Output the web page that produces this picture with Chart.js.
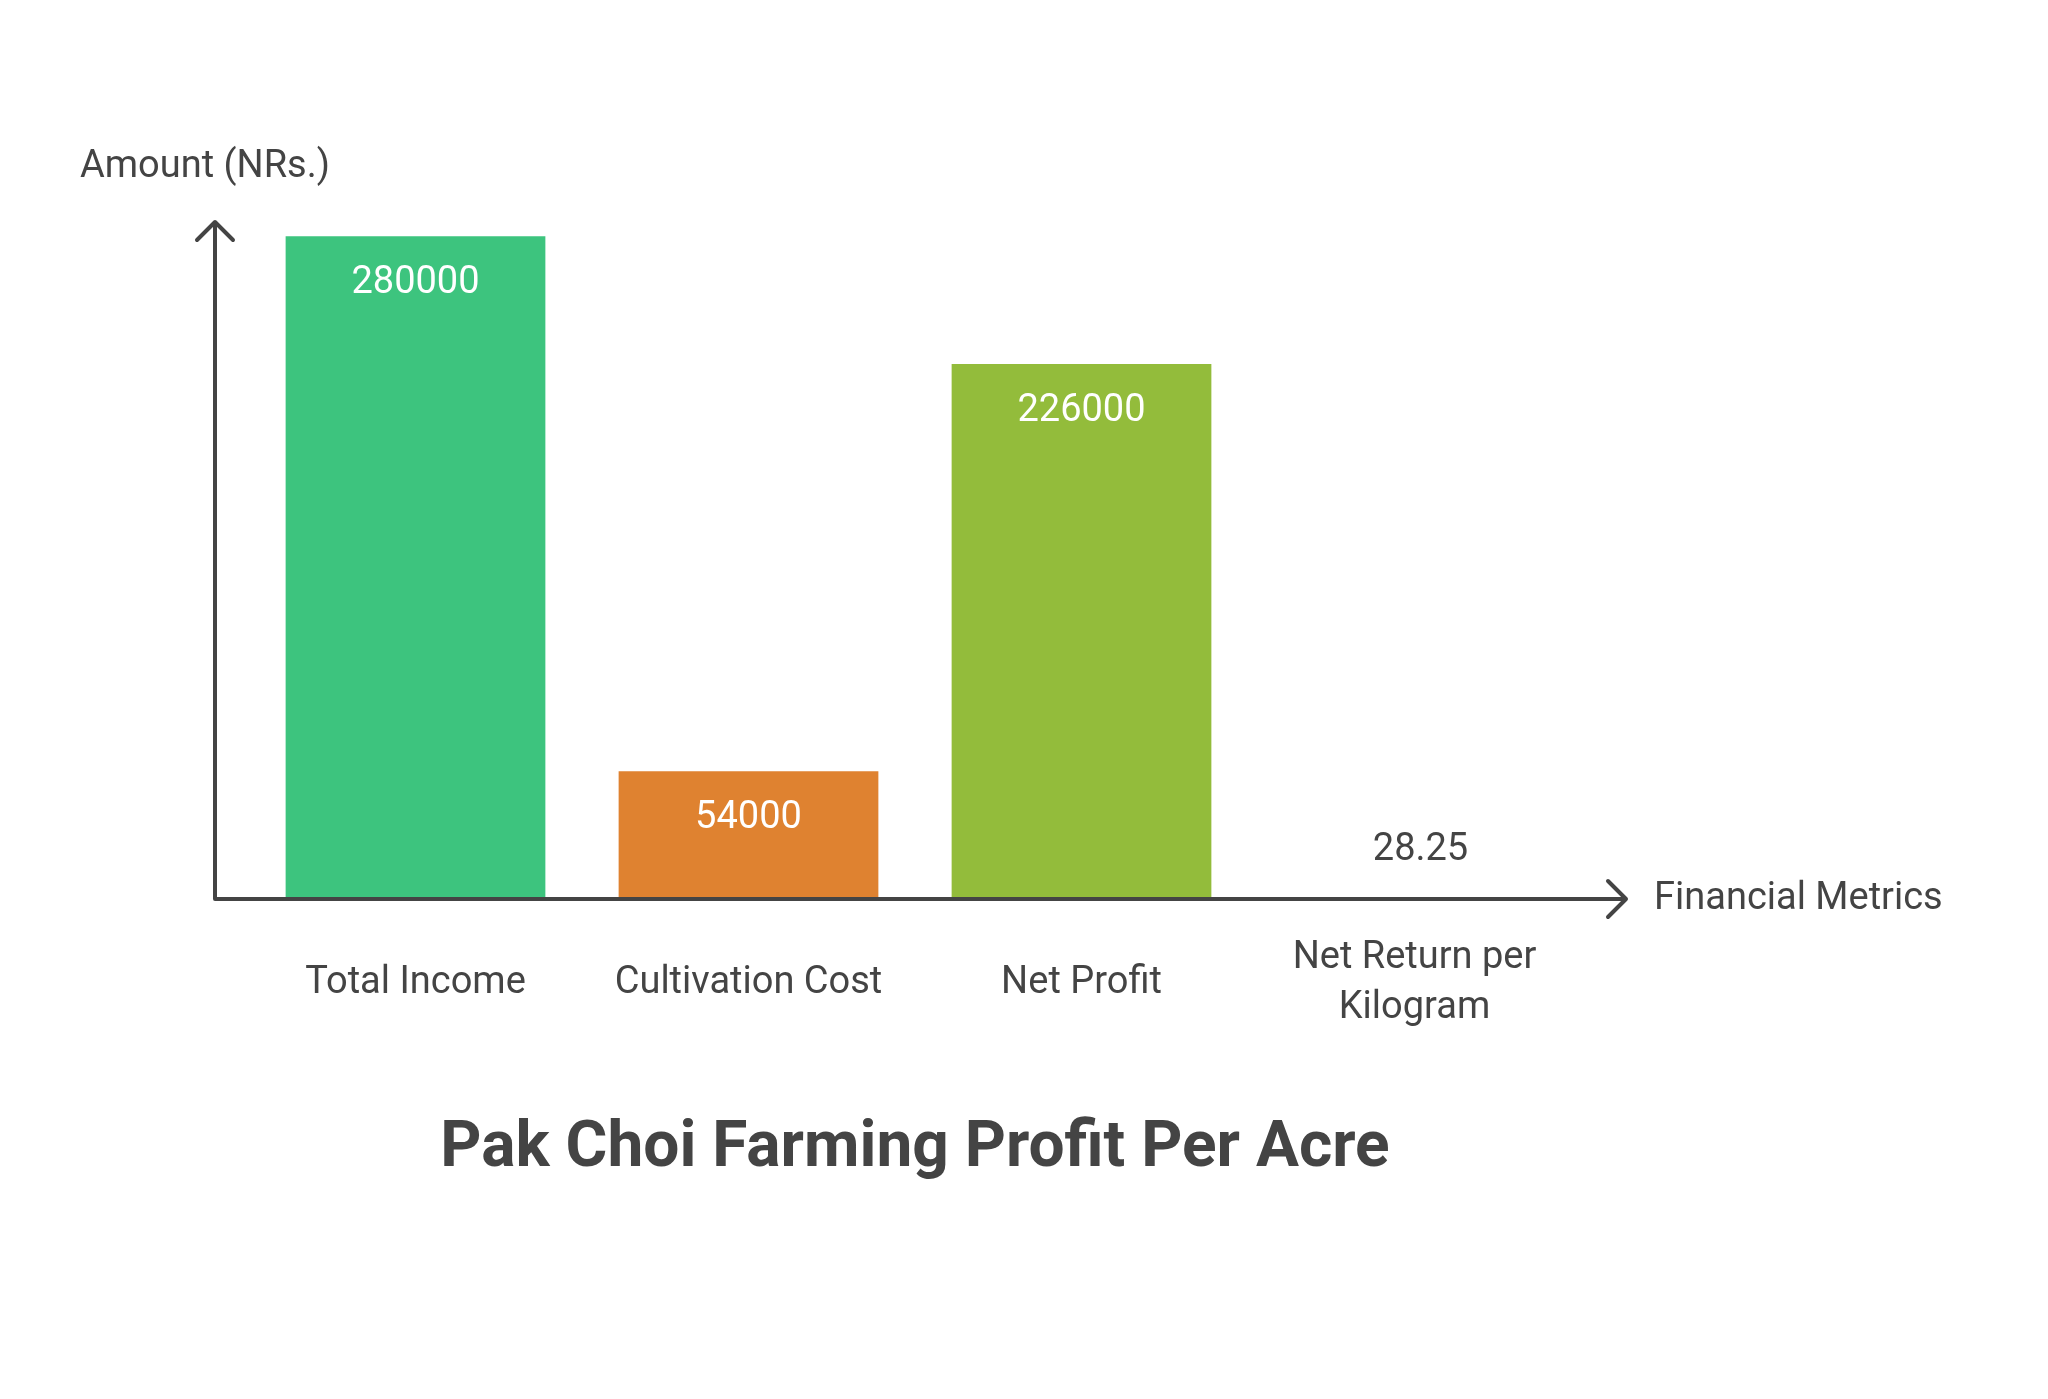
<!DOCTYPE html>
<html>
<head>
<meta charset="utf-8">
<script src="https://cdn.jsdelivr.net/npm/chart.js@4"></script>
<style>
html,body{margin:0;padding:0;background:#fff;}
#wrap{width:2048px;height:1399px;}
</style>
</head>
<body>
<div id="wrap"><canvas id="c"></canvas></div>
<script>
var categories = [["Total Income"], ["Cultivation Cost"], ["Net Profit"], ["Net Return per", "Kilogram"]];
var values = [280000, 54000, 226000, 28.25];
var valueLabels = ["280000", "54000", "226000", "28.25"];
var barColors = ["#3dc47e", "#df8230", "#93bc3b", "#5b9bd5"];

var ink = "#444444";

var axesPlugin = {
  id: "axesPlugin",
  afterDraw: function(chart){
    var ctx = chart.ctx;
    var area = chart.chartArea;
    var xs = chart.scales.x, ys = chart.scales.y;
    var ax = 215, ay = ys.getPixelForValue(0), top = 222, right = 1626;
    ctx.save();
    ctx.strokeStyle = ink; ctx.lineWidth = 4; ctx.lineCap = "round"; ctx.lineJoin = "round";
    ctx.beginPath();
    ctx.moveTo(ax, ay); ctx.lineTo(ax, top);
    ctx.moveTo(ax - 18, top + 18); ctx.lineTo(ax, top); ctx.lineTo(ax + 18, top + 18);
    ctx.moveTo(ax, ay); ctx.lineTo(right, ay);
    ctx.moveTo(right - 18, ay - 18); ctx.lineTo(right, ay); ctx.lineTo(right - 18, ay + 18);
    ctx.stroke();

    ctx.fillStyle = ink;
    ctx.font = "38px Roboto";
    ctx.textBaseline = "middle";
    ctx.textAlign = "left";
    ctx.fillText("Amount (NRs.)", 80, 167);
    ctx.fillText("Financial Metrics", 1654, ay);

    ctx.textAlign = "center";
    categories.forEach(function(lines, i){
      var x = xs.getPixelForValue(i);
      var y0 = lines.length > 1 ? 958 : 983;
      lines.forEach(function(t, j){ ctx.fillText(t, x, y0 + j * 50); });
    });

    var meta = chart.getDatasetMeta(0);
    meta.data.forEach(function(bar, i){
      var h = ay - bar.y;
      if (h > 80) {
        ctx.fillStyle = "#ffffff";
        ctx.fillText(valueLabels[i], bar.x, bar.y + 47);
      } else {
        ctx.fillStyle = ink;
        ctx.fillText(valueLabels[i], bar.x + 6, bar.y - 48);
      }
    });

    ctx.fillStyle = ink;
    ctx.font = "bold 64px Roboto";
    ctx.fillText("Pak Choi Farming Profit Per Acre", 915, 1150);
    ctx.restore();
  }
};

new Chart(document.getElementById("c"), {
  type: "bar",
  data: {
    labels: categories,
    datasets: [{
      data: values,
      backgroundColor: barColors,
      barPercentage: 0.78,
      categoryPercentage: 1.0
    }]
  },
  options: {
    responsive: true,
    maintainAspectRatio: false,
    animation: false,
    layout: { padding: { left: 249, right: 467, top: 222, bottom: 500 } },
    plugins: { legend: { display: false }, tooltip: { enabled: false } },
    scales: {
      x: { display: false },
      y: { display: false, min: 0, max: 286000 }
    }
  },
  plugins: [axesPlugin]
});
</script>
</body>
</html>
